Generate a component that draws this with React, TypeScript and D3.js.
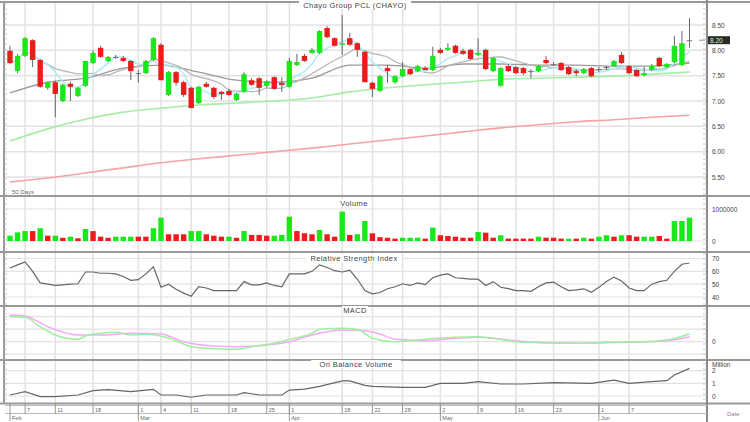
import React from "react";
import * as d3 from "d3";

// ---------- DATA ----------
const openP = [7.99,7.59,7.89,8.20,7.81,7.26,7.37,7.00,7.34,7.10,7.30,7.75,8.05,7.79,7.85,7.85,7.79,7.55,7.55,7.81,8.11,7.12,7.57,7.37,7.26,6.96,7.34,7.26,7.18,7.20,7.02,7.18,7.41,7.45,7.30,7.47,7.36,7.28,7.71,7.89,7.95,7.95,8.44,8.24,8.11,8.24,8.14,7.97,7.36,7.20,7.65,7.37,7.49,7.63,7.59,7.65,7.61,8.01,8.01,8.09,7.99,8.01,7.91,8.01,7.59,7.30,7.69,7.67,7.65,7.59,7.59,7.81,7.73,7.75,7.67,7.59,7.55,7.65,7.61,7.65,7.69,7.91,7.69,7.61,7.51,7.61,7.85,7.67,7.77,7.71,8.18];
const highP = [8.09,7.93,8.26,8.22,7.83,7.38,7.40,7.34,7.38,7.28,7.79,8.00,8.09,7.89,7.91,7.89,7.81,7.61,7.81,8.26,8.14,7.59,7.59,7.40,7.28,7.30,7.38,7.28,7.20,7.24,7.16,7.57,7.45,7.47,7.41,7.49,7.47,7.85,7.93,7.93,8.05,8.40,8.48,8.26,8.70,8.34,8.16,7.99,7.38,7.51,7.71,7.51,7.77,7.65,7.71,7.69,8.07,8.05,8.14,8.11,8.03,8.03,8.24,8.03,7.87,7.67,7.73,7.69,7.67,7.63,7.71,7.89,7.77,7.77,7.69,7.63,7.65,7.67,7.67,7.69,7.81,7.97,7.71,7.63,7.67,7.73,7.87,7.75,8.28,8.38,8.64];
const lowP = [7.73,7.55,7.87,7.67,7.26,7.22,6.68,6.98,7.00,7.08,7.28,7.73,7.85,7.77,7.83,7.77,7.41,7.36,7.53,7.79,7.41,7.10,7.30,7.08,6.86,6.94,7.26,7.04,7.02,7.10,7.00,7.16,7.30,7.12,7.26,7.22,7.18,7.26,7.69,7.77,7.93,7.93,8.24,8.07,7.91,8.09,7.87,7.37,7.08,7.18,7.36,7.34,7.47,7.51,7.57,7.61,7.59,7.93,7.99,7.93,7.91,7.81,7.89,7.61,7.57,7.28,7.57,7.53,7.51,7.45,7.57,7.73,7.69,7.59,7.51,7.49,7.53,7.47,7.57,7.61,7.67,7.73,7.53,7.47,7.49,7.59,7.67,7.65,7.75,7.69,8.05];
const closeP = [7.75,7.89,8.24,7.81,7.28,7.37,7.14,7.32,7.28,7.26,7.79,7.95,7.87,7.87,7.87,7.79,7.59,7.53,7.79,8.24,7.41,7.57,7.36,7.12,6.86,7.28,7.28,7.08,7.14,7.12,7.14,7.53,7.32,7.26,7.39,7.24,7.32,7.79,7.77,7.79,8.01,8.38,8.26,8.09,8.14,8.11,8.01,7.37,7.24,7.49,7.59,7.49,7.63,7.53,7.69,7.61,7.89,7.95,8.05,7.95,7.93,7.83,7.95,7.63,7.85,7.65,7.59,7.55,7.55,7.57,7.69,7.75,7.71,7.61,7.53,7.55,7.63,7.49,7.63,7.67,7.79,7.75,7.55,7.49,7.55,7.69,7.69,7.73,8.09,8.14,8.20];

const volume = [166000,270000,310000,310000,400000,166000,166000,100000,135000,85000,375000,310000,135000,100000,135000,135000,135000,135000,135000,400000,730000,210000,210000,210000,310000,310000,210000,166000,135000,135000,100000,310000,190000,190000,166000,166000,190000,760000,310000,240000,210000,345000,210000,135000,920000,190000,210000,625000,240000,120000,103000,73000,103000,103000,103000,73000,420000,180000,156000,135000,103000,103000,280000,260000,103000,180000,73000,73000,73000,73000,135000,103000,103000,73000,73000,73000,103000,73000,135000,180000,135000,180000,180000,135000,135000,135000,156000,73000,625000,625000,730000];
const volUp = [1,1,1,0,1,0,1,0,1,0,1,0,0,0,1,1,1,0,0,1,1,0,0,0,1,1,0,0,0,1,0,1,0,0,0,1,1,1,0,0,0,1,0,0,1,0,1,1,0,0,0,0,1,1,1,0,1,0,0,0,0,0,1,0,0,1,0,0,0,0,1,0,0,0,1,0,1,0,1,1,0,1,0,0,1,1,0,0,1,1,1];

const rsi = [62.6,65,67.3,60,51,50,49,49.5,50,50.3,59.5,59.5,58.5,58.5,58,56,53,53.5,58,63.5,47.6,50,46,43,40.6,48,47,45,45,45,45,52,49.5,49.5,51,49,48,58,58,58,60,65,63,60.5,59.5,61,54,45,42.4,43.5,46.4,48,50.3,49,51,49.6,55,57,58,55,54.5,54,54,49,52,47.6,46.5,45,45,44.4,48,51,51.6,48,45,45.5,46.4,43.7,47.5,52,55.5,52.5,47,45,45,50,52,53,60,65.5,66.5];

const maIdx = [0,5,10,15,20,25,30,35,40,45,50,55,60,65,70,75,80,85,90];
const maGreen = [6.21,6.45,6.64,6.78,6.86,6.92,6.96,7.00,7.06,7.18,7.26,7.32,7.37,7.43,7.45,7.47,7.49,7.53,7.57];
const maRed = [5.40,5.48,5.58,5.68,5.78,5.86,5.93,6.00,6.07,6.15,6.23,6.31,6.39,6.47,6.53,6.59,6.63,6.68,6.72];
const maGray = [7.16,7.37,7.45,7.65,7.71,7.57,7.41,7.37,7.45,7.71,7.71,7.65,7.73,7.73,7.71,7.71,7.69,7.69,7.75];

const macdIdx = [0,2,4,6,9,10,12,14,16,18,20,22,24,27,30,32,35,37,40,41,44,46,48,51,55,59,62,67,70,75,79,84,87,90];
const macdVal = [0.25,0.244,0.15,0.067,0.024,0.057,0.084,0.094,0.067,0.074,0.057,0.01,-0.05,-0.07,-0.076,-0.05,-0.016,0.024,0.084,0.124,0.134,0.124,0.034,0,0.024,0.044,0.05,0,-0.01,-0.016,-0.006,0,0.017,0.077];
const signalIdx = [0,2,5,9,12,16,20,23,27,30,34,37,40,44,47,49,51,55,59,62,67,70,75,79,84,87,90];
const signalVal = [0.267,0.257,0.15,0.067,0.067,0.084,0.077,0,-0.043,-0.05,-0.033,0,0.067,0.117,0.11,0.077,0.024,0.01,0.034,0.044,0.01,-0.006,-0.016,-0.01,0,0.01,0.05];

const obvIdx = [0,2,4,6,9,11,13,16,19,20,22,24,26,30,31,33,36,37,39,41,44,45,47,48,52,55,57,60,62,65,68,72,77,80,82,85,87,88,90];
const obvVal = [0.08,0.34,-0.05,-0.05,0.08,0.42,0.5,0.34,0.53,0.08,0.08,-0.1,0.08,0.08,0.26,0.08,0.08,0.47,0.55,0.76,1.2,1.2,0.84,0.76,0.68,0.68,1.0,1.0,1.13,0.95,0.95,1.05,1.0,1.26,1.0,1.13,1.21,1.66,2.18];

const tickIdx = [2,6,11,17,20,24,29,34,37,44,48,52,57,62,67,72,78,82];
const tickLabels = ["7","11","18","1","4","11","18","25","1","18","22","28","2","9","16","23","1","7"];
const monthIdx = [0,17,37,57,78];
const monthLabels = ["Feb","Mar","Apr","May","Jun"];

const priceTicks = [5.5,6.0,6.5,7.0,7.5,8.0,8.5];
const rsiTicks = [40,50,60,70];
const macdGrid = [-0.125,0,0.125,0.25];
const obvTicks = [0,1,2];
const volTicks = [0,1000000];

// ---------- helpers ----------
function sma(arr: number[], n: number) {
  return arr.map((_, i) => {
    const s = arr.slice(Math.max(0, i - n + 1), i + 1);
    return d3.mean(s) as number;
  });
}

const FONT = "'Liberation Sans', Arial, sans-serif";

export default function App() {
  const W = 750, H = 422;
  const L = 5, R = 707;
  const x = d3.scaleLinear().domain([0, 90]).range([10, 689.5]);
  const yP = d3.scaleLinear().domain([5.5, 8.5]).range([177, 25]);
  const yV = d3.scaleLinear().domain([0, 1000000]).range([241, 209]);
  const yR = d3.scaleLinear().domain([40, 70]).range([297, 258.5]);
  const yM = d3.scaleLinear().domain([0, 0.25]).range([341.7, 316.7]);
  const yO = d3.scaleLinear().domain([0, 2]).range([396, 370.7]);
  const bw = 5.4;
  const UP = "#19e819", DN = "#ec1c1c";

  const sma5 = sma(closeP, 5);
  const sma10 = sma(closeP, 10);

  const lineIdx = (ys: (v: number) => number, curve = d3.curveMonotoneX) =>
    d3.line<[number, number]>().x(d => x(d[0])).y(d => ys(d[1])).curve(curve);
  const pairs = (idx: number[], vals: number[]) => idx.map((d, i) => [d, vals[i]] as [number, number]);
  const full = (vals: number[]) => vals.map((v, i) => [i, v] as [number, number]);

  const panels = [
    { top: 3, bottom: 195 },
    { top: 197, bottom: 251 },
    { top: 253, bottom: 305 },
    { top: 307, bottom: 359 },
    { top: 361, bottom: 403 },
  ];
  const seps = [2, 196, 252, 306, 360, 403.5];
  const grid = "#e2e2e2";
  const txt = "#333";

  const title = (t: string, cx: number, cy: number, w: number) => (
    <g>
      <rect x={cx - w / 2} y={cy - 5} width={w} height={8} fill="#fff" />
      <text x={cx} y={cy + 1.5} textAnchor="middle" fontSize={7.5} fontFamily={FONT} fill="#444" letterSpacing={0.4}>{t}</text>
    </g>
  );

  const rightLabel = (t: string, y: number) => (
    <text x={712} y={y + 2.5} fontSize={6.5} fontFamily={FONT} fill="#444">{t}</text>
  );

  const minorTicks: number[] = d3.range(4, 403, 5);

  return (
    <svg width={W} height={H} style={{ position: "absolute", left: 0, top: 0, background: "#fff" }}>
      <rect x={0} y={0} width={W} height={H} fill="#fff" />
      {/* vertical grid */}
      {tickIdx.map((t, i) => (
        <line key={"vg" + i} x1={x(t)} x2={x(t)} y1={3} y2={403} stroke={grid} strokeWidth={1.5} />
      ))}
      {/* horizontal grids */}
      {priceTicks.map((p, i) => (
        <line key={"pg" + i} x1={L} x2={R} y1={yP(p)} y2={yP(p)} stroke={grid} strokeWidth={1.5} />
      ))}
      {volTicks.map((v, i) => (
        <line key={"vgl" + i} x1={L} x2={R} y1={yV(v)} y2={yV(v)} stroke={grid} strokeWidth={1.2} />
      ))}
      {rsiTicks.map((v, i) => (
        <line key={"rg" + i} x1={L} x2={R} y1={yR(v)} y2={yR(v)} stroke={grid} strokeWidth={1.2} />
      ))}
      {macdGrid.map((v, i) => (
        <line key={"mg" + i} x1={L} x2={R} y1={yM(v)} y2={yM(v)} stroke={grid} strokeWidth={1.2} />
      ))}
      {obvTicks.map((v, i) => (
        <line key={"og" + i} x1={L} x2={R} y1={yO(v)} y2={yO(v)} stroke={grid} strokeWidth={1.2} />
      ))}

      {/* price panel MAs */}
      <path d={lineIdx(yP)(pairs(maIdx, maRed)) || ""} fill="none" stroke="#f5a3a3" strokeWidth={1.6} />
      <path d={lineIdx(yP)(pairs(maIdx, maGreen)) || ""} fill="none" stroke="#a6eea6" strokeWidth={1.6} />
      <path d={lineIdx(yP)(pairs(maIdx, maGray)) || ""} fill="none" stroke="#9a9a9a" strokeWidth={1.3} />
      <path d={lineIdx(yP)(full(sma10)) || ""} fill="none" stroke="#b8b8b8" strokeWidth={1.3} />
      <path d={lineIdx(yP)(full(sma5)) || ""} fill="none" stroke="#a8ecf5" strokeWidth={1.4} />

      {/* candles */}
      {closeP.map((c, i) => {
        const o = openP[i];
        const up = c >= o;
        const yt = yP(Math.max(o, c)), yb = yP(Math.min(o, c));
        const h = Math.max(1, yb - yt);
        return (
          <g key={"c" + i}>
            <line x1={x(i)} x2={x(i)} y1={yP(highP[i])} y2={yP(lowP[i])} stroke="#666" strokeWidth={1} />
            <rect x={x(i) - bw / 2} y={yt} width={bw} height={h}
              fill={Math.abs(c - o) < 0.03 ? "#777" : up ? UP : DN} />
          </g>
        );
      })}

      {/* volume */}
      {volume.map((v, i) => (
        <rect key={"v" + i} x={x(i) - bw / 2} y={yV(v)} width={bw} height={yV(0) - yV(v)}
          fill={volUp[i] ? UP : DN} />
      ))}

      {/* RSI */}
      <path d={lineIdx(yR, d3.curveLinear)(full(rsi)) || ""} fill="none" stroke="#666" strokeWidth={1.2} />

      {/* MACD */}
      <path d={lineIdx(yM)(pairs(signalIdx, signalVal)) || ""} fill="none" stroke="#f7a8f7" strokeWidth={1.5} />
      <path d={lineIdx(yM)(pairs(macdIdx, macdVal)) || ""} fill="none" stroke="#9ef09e" strokeWidth={1.5} />

      {/* OBV */}
      <path d={lineIdx(yO, d3.curveLinear)(pairs(obvIdx, obvVal)) || ""} fill="none" stroke="#666" strokeWidth={1.2} />

      {/* separators */}
      {seps.map((s, i) => (
        <line key={"s" + i} x1={0} x2={W} y1={s} y2={s} stroke="#999" strokeWidth={1.8} />
      ))}
      {/* left border */}
      <line x1={4} x2={4} y1={2} y2={404} stroke="#999" strokeWidth={2} />
      {minorTicks.map((t, i) => (
        <line key={"lt" + i} x1={4} x2={7} y1={t} y2={t} stroke="#bbb" strokeWidth={0.8} />
      ))}
      {/* right axis */}
      <line x1={R} x2={R} y1={0} y2={H} stroke="#888" strokeWidth={2} />
      {minorTicks.map((t, i) => (
        <line key={"rt" + i} x1={R - 4} x2={R} y1={t} y2={t} stroke="#bbb" strokeWidth={0.8} />
      ))}

      {/* right labels */}
      {priceTicks.map((p, i) => <g key={"pl" + i}>{rightLabel(d3.format(".2f")(p), yP(p))}</g>)}
      <rect x={708} y={yP(closeP[90]) - 4} width={22} height={8} fill="#2a2a2a" />
      <text x={710} y={yP(closeP[90]) + 2.5} fontSize={6.5} fontFamily={FONT} fill="#d8f5c8">{d3.format(".2f")(closeP[90])}</text>
      <line x1={699} x2={705} y1={yP(closeP[90])} y2={yP(closeP[90])} stroke="#999" strokeWidth={1} />
      {rightLabel("1000000", yV(1000000))}
      {rightLabel("0", yV(0))}
      {rsiTicks.map((v, i) => <g key={"rl" + i}>{rightLabel(String(v), yR(v))}</g>)}
      {rightLabel("0", yM(0))}
      {rightLabel("Million", 364)}
      {obvTicks.map((v, i) => <g key={"ol" + i}>{rightLabel(String(v), yO(v))}</g>)}

      {/* titles */}
      {title("Chayo Group PCL (CHAYO)", 355, 6, 112)}
      {title("Volume", 354, 204, 32)}
      {title("Relative Strength Index", 354, 259, 96)}
      {title("MACD", 355, 311, 26)}
      {title("On Balance Volume", 356, 365, 90)}
      <text x={12} y={194} fontSize={6} fontFamily={FONT} fill="#666">50 Days</text>

      {/* x axis band */}
      <line x1={L} x2={R} y1={405.5} y2={405.5} stroke="#bbb" strokeWidth={1} />
      <line x1={L} x2={R} y1={413.5} y2={413.5} stroke="#bbb" strokeWidth={1} />
      {tickIdx.map((t, i) => (
        <g key={"xt" + i}>
          <line x1={x(t)} x2={x(t)} y1={403} y2={414} stroke="#999" strokeWidth={1} />
          <text x={x(t) + 2} y={411.5} fontSize={5.5} fontFamily={FONT} fill="#666">{tickLabels[i]}</text>
        </g>
      ))}
      {monthIdx.map((m, i) => (
        <g key={"mt" + i}>
          <line x1={x(m)} x2={x(m)} y1={403} y2={421} stroke="#999" strokeWidth={1} />
          <text x={x(m) + 2} y={420} fontSize={5.5} fontFamily={FONT} fill="#666">{monthLabels[i]}</text>
        </g>
      ))}
      <text x={727} y={416} fontSize={6} fontFamily={FONT} fill="#a07aa0">Date</text>
    </svg>
  );
}
